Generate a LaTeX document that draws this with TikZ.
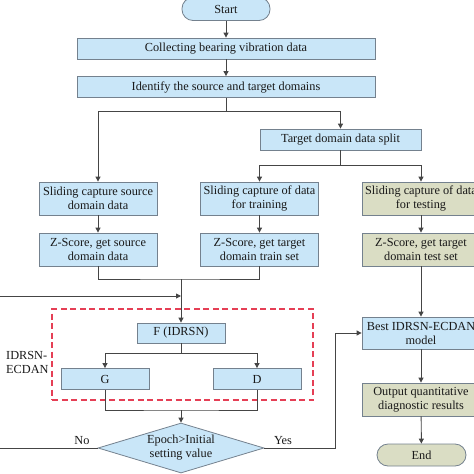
\documentclass[tikz,border=0pt]{standalone}
\usepackage{fontspec}
\setmainfont{Liberation Serif}
\usetikzlibrary{arrows.meta,shapes.geometric}
\definecolor{bfill}{HTML}{C9E6F8}
\definecolor{ofill}{HTML}{DADDC4}
\definecolor{bord}{HTML}{74818E}
\definecolor{ln}{HTML}{454545}
\definecolor{dred}{HTML}{E53F55}
\begin{document}
\begin{tikzpicture}[x=1pt,y=-1pt,
  every node/.style={font=\fontsize{12.3}{14}\selectfont, text=black!90},
  box/.style={draw=bord, line width=0.8pt, fill=bfill, inner sep=0pt, align=center},
  obox/.style={box, fill=ofill},
  term/.style={box, rounded corners=11pt},
  arr/.style={draw=ln, line width=0.9pt, -{Triangle[length=5pt,width=5pt]}},
  ln/.style={draw=ln, line width=0.9pt}]
\clip (0,0) rectangle (474,474);
\useasboundingbox (0,0) rectangle (474,474);
% nodes
\node[term, minimum width=88pt, minimum height=23pt] (start) at (226,9) {Start};
\node[box, minimum width=298pt, minimum height=21pt] (collect) at (226,48.5) {Collecting bearing vibration data};
\node[box, minimum width=298pt, minimum height=21pt] (ident) at (226,87) {Identify the source and target domains};
\node[box, minimum width=161pt, minimum height=21pt] (split) at (340.5,139.5) {Target domain data split};
\node[box, minimum width=118pt, minimum height=33pt] (ssrc) at (98,198.5) {Sliding capture source\\domain data};
\node[box, minimum width=118pt, minimum height=33pt] (strain) at (259.5,198.5) {Sliding capture of data\\for training};
\node[obox, minimum width=118pt, minimum height=33pt] (stest) at (421,198.5) {Sliding capture of data\\for testing};
\node[box, minimum width=118pt, minimum height=33pt] (zsrc) at (98,249.5) {Z-Score, get source\\domain data};
\node[box, minimum width=118pt, minimum height=33pt] (ztrain) at (259.5,249.5) {Z-Score, get target\\domain train set};
\node[obox, minimum width=118pt, minimum height=33pt] (ztest) at (421,249.5) {Z-Score, get target\\domain test set};
\node[draw=dred, line width=1.2pt, dash pattern=on 6pt off 3.5pt, minimum width=261pt, minimum height=91pt, inner sep=0pt] (frame) at (182.5,354.5) {};
\node[anchor=west, align=left, inner sep=0pt] (lab) at (6,362) {IDRSN-\\ECDAN};
\node[box, minimum width=88pt, minimum height=20pt] (F) at (181,333) {F (IDRSN)};
\node[box, minimum width=88pt, minimum height=21pt] (G) at (105,379) {G};
\node[box, minimum width=88pt, minimum height=21pt] (D) at (257,379) {D};
\node[box, diamond, minimum width=166pt, minimum height=50pt, aspect=3.3] (dec) at (181,448) {Epoch>Initial\\setting value};
\node[box, minimum width=118pt, minimum height=32pt] (best) at (421,333) {Best IDRSN-ECDAN\\model};
\node[obox, minimum width=118pt, minimum height=33pt] (out) at (421,399.5) {Output quantitative\\diagnostic results};
\node[obox, rounded corners=11pt, minimum width=89pt, minimum height=22pt] (end) at (421.5,455) {End};
\node[inner sep=0pt] (no) at (82,441) {No};
\node[inner sep=0pt] (yes) at (283,441) {Yes};
% coordinates
\coordinate (b1) at (226,111);
\coordinate (b2) at (340.5,165);
\coordinate (j1) at (181,279);
\coordinate (j2) at (181,296);
\coordinate (l1) at (-5,448);
\coordinate (l2) at (-5,296);
\coordinate (b3) at (181,353);
\coordinate (j3) at (181,410);
\coordinate (y1) at (335,448);
% connectors
\draw[arr] (start) -- (collect);
\draw[arr] (collect) -- (ident);
\draw[ln] (ident) -- (b1);
\draw[arr] (b1) -| (ssrc);
\draw[arr] (b1) -| (split);
\draw[ln] (split) -- (b2);
\draw[arr] (b2) -| (strain);
\draw[arr] (b2) -| (stest);
\draw[arr] (ssrc) -- (zsrc);
\draw[arr] (strain) -- (ztrain);
\draw[arr] (stest) -- (ztest);
\draw[ln] (zsrc.south) |- (j1) -| (ztrain.south);
\draw[arr] (j1) -- (F);
\draw[arr] (dec.west) -- (l1) -- (l2) -- (j2);
\draw[ln] (F) -- (b3);
\draw[arr] (b3) -| (G);
\draw[arr] (b3) -| (D);
\draw[ln] (G.south) |- (j3) -| (D.south);
\draw[arr] (j3) -- (dec);
\draw[arr] (dec.east) -- (y1) |- (best.west);
\draw[arr] (ztest) -- (best);
\draw[arr] (best) -- (out);
\draw[arr] (out) -- (end);
\end{tikzpicture}
\end{document}
